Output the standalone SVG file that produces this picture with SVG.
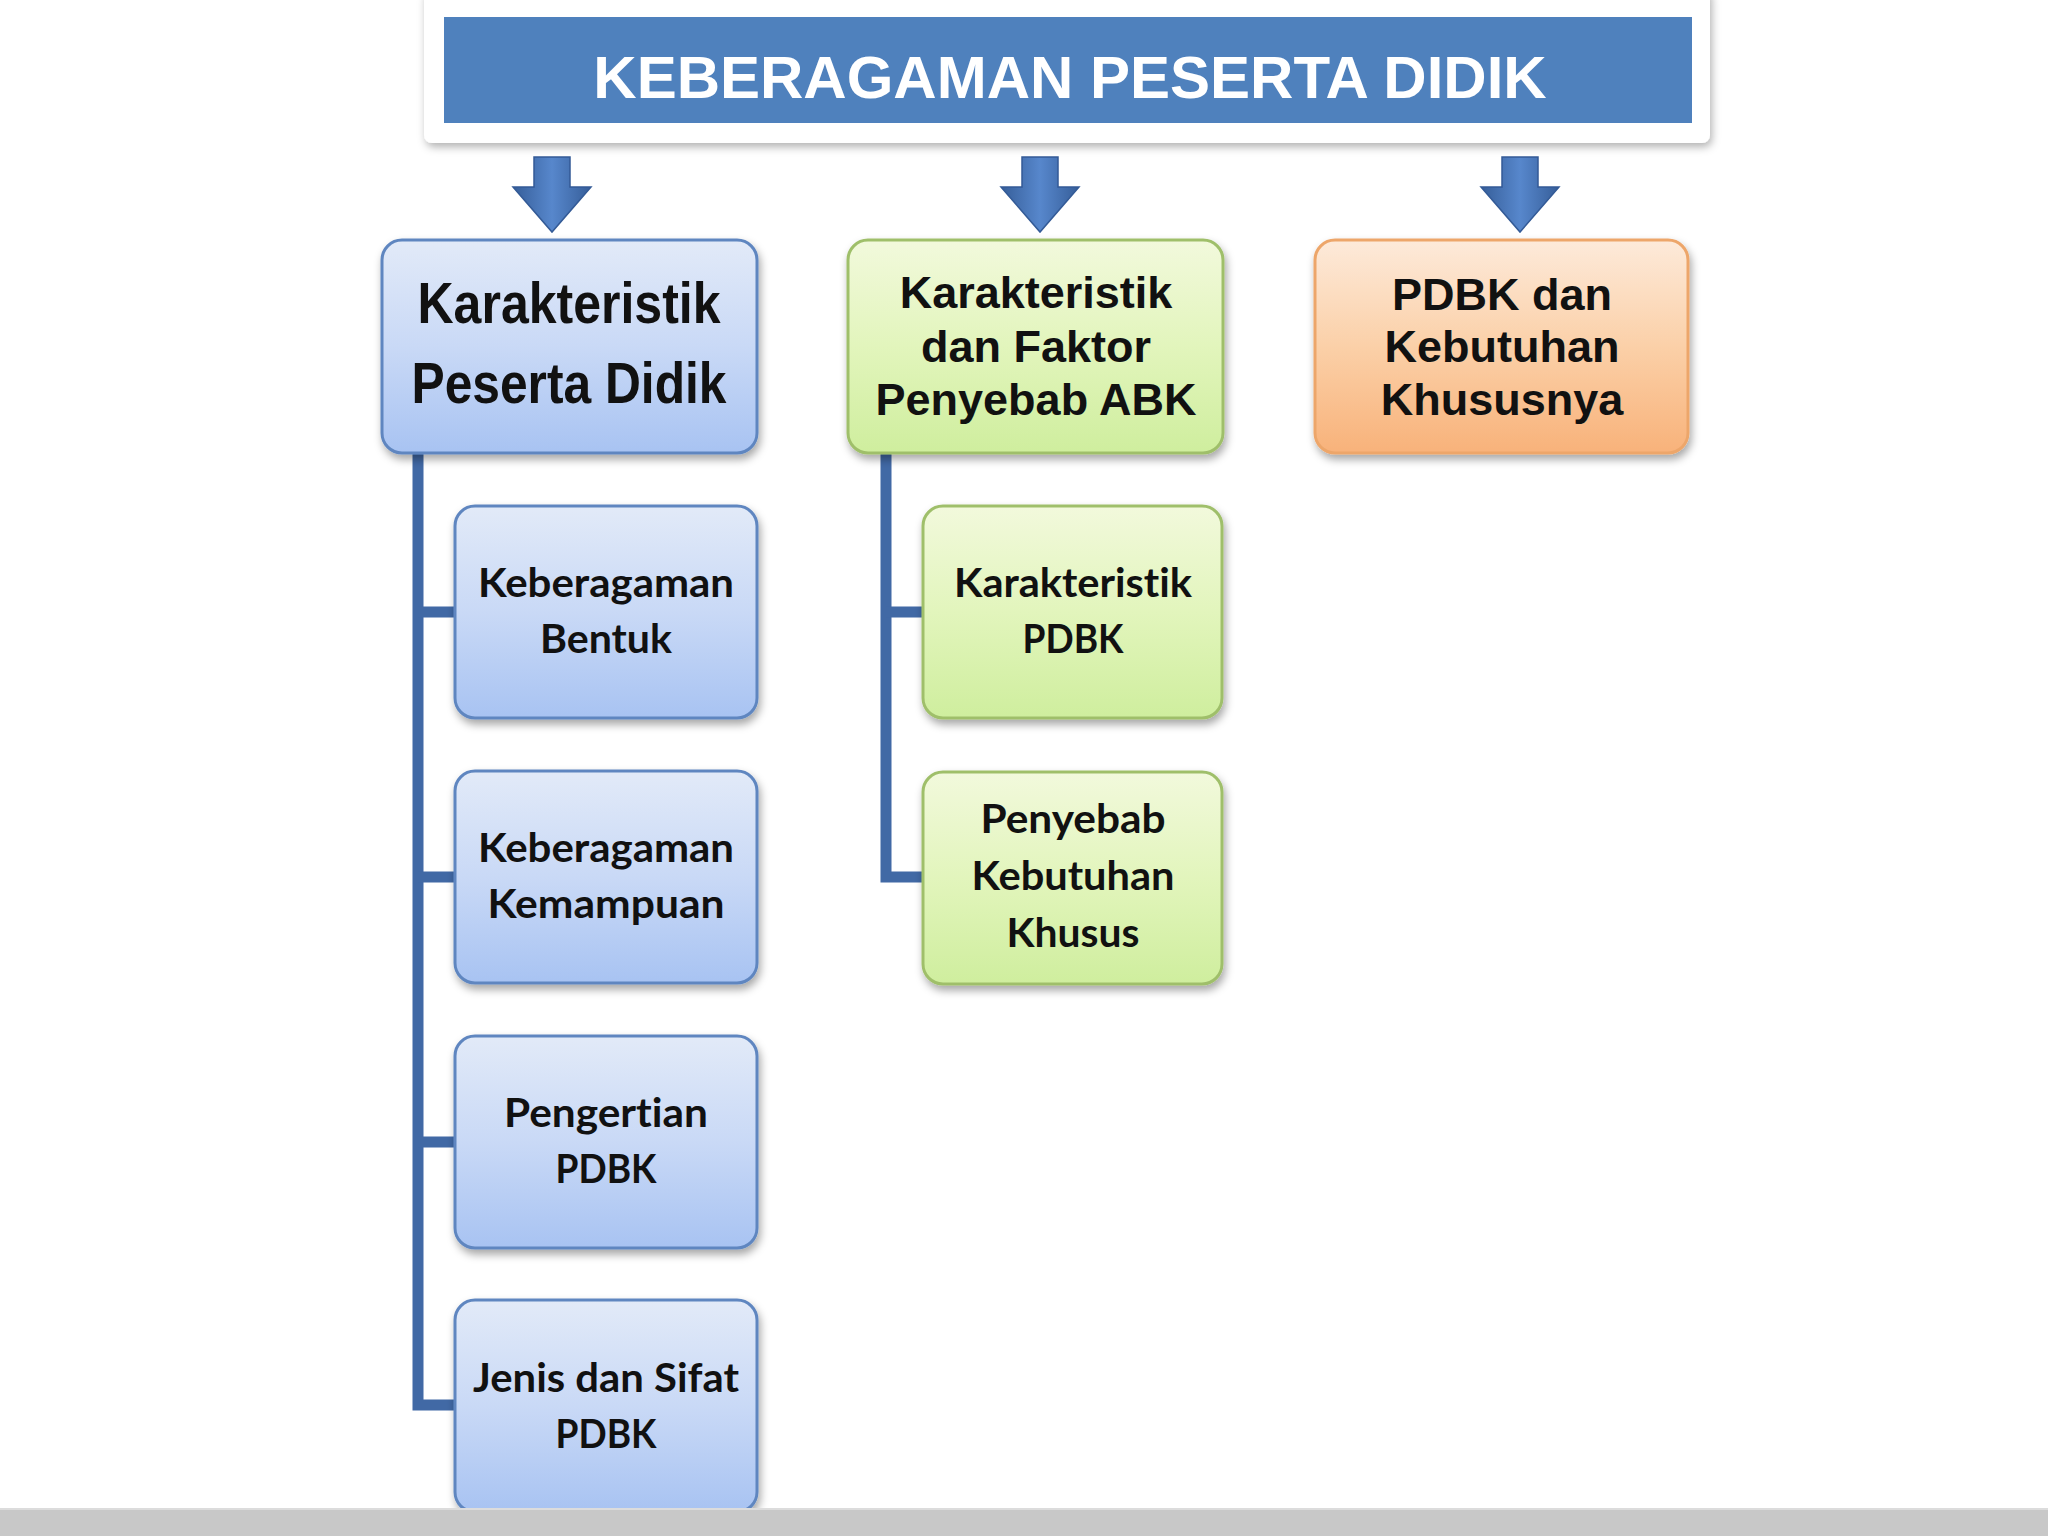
<svg xmlns="http://www.w3.org/2000/svg" width="2048" height="1536" viewBox="0 0 2048 1536">
  <defs>
    <linearGradient id="gBlue" x1="0" y1="0" x2="0" y2="1">
      <stop offset="0" stop-color="#e2eaf8"/>
      <stop offset="0.5" stop-color="#c9d9f6"/>
      <stop offset="1" stop-color="#a8c3f2"/>
    </linearGradient>
    <linearGradient id="gGreen" x1="0" y1="0" x2="0" y2="1">
      <stop offset="0" stop-color="#f2f9dc"/>
      <stop offset="0.5" stop-color="#e2f5bc"/>
      <stop offset="1" stop-color="#cfee9e"/>
    </linearGradient>
    <linearGradient id="gOrange" x1="0" y1="0" x2="0" y2="1">
      <stop offset="0" stop-color="#fdeada"/>
      <stop offset="0.5" stop-color="#fbd0a8"/>
      <stop offset="1" stop-color="#f8b27a"/>
    </linearGradient>
    <linearGradient id="gArrow" x1="0" y1="0" x2="1" y2="0">
      <stop offset="0" stop-color="#365e99"/>
      <stop offset="0.5" stop-color="#5787cc"/>
      <stop offset="1" stop-color="#365e99"/>
    </linearGradient>
    <filter id="shadow" x="-10%" y="-10%" width="125%" height="130%">
      <feDropShadow dx="2" dy="5" stdDeviation="4" flood-color="#000" flood-opacity="0.35"/>
    </filter>
    <filter id="pshadow" x="-5%" y="-20%" width="110%" height="150%">
      <feDropShadow dx="2" dy="4" stdDeviation="4" flood-color="#000" flood-opacity="0.3"/>
    </filter>
  </defs>
  <style>
    .blue { fill: url(#gBlue); stroke: #5f86c0; stroke-width: 3; }
    .green { fill: url(#gGreen); stroke: #9fbf6a; stroke-width: 3; }
    .orange { fill: url(#gOrange); stroke: #eda66b; stroke-width: 3; }
    text { font-variant-ligatures: none; font-feature-settings: "liga" 0, "clig" 0; }
    .main { font-family: "Liberation Sans", Arial, sans-serif; font-weight: bold; font-size: 45px; fill: #111; text-anchor: middle; }
    .big { font-family: "Liberation Sans", Arial, sans-serif; font-weight: bold; font-size: 58px; fill: #111; text-anchor: middle; }
    .sub { font-family: Lato, "Open Sans", sans-serif; font-weight: bold; font-size: 41px; fill: #111; text-anchor: middle; }
    .title { font-family: "Liberation Sans", Arial, sans-serif; font-weight: bold; font-size: 60px; fill: #fff; text-anchor: middle; }
    .conn { fill: none; stroke: #4169a5; stroke-width: 11; stroke-linejoin: miter; }
    .arrow { fill: url(#gArrow); stroke: #335a96; stroke-width: 1.5; }
  </style>

  <rect x="0" y="0" width="2048" height="1536" fill="#ffffff"/>

  <g id="title">
    <rect x="424" y="-12" width="1286" height="155" rx="8" fill="#ffffff" filter="url(#pshadow)"/>
    <rect x="444" y="17" width="1248" height="106" fill="#4f81bd"/>
    <text class="title" x="1070" y="98">KEBERAGAMAN PESERTA DIDIK</text>
  </g>

  <g id="arrows">
    <path class="arrow" d="M534,157 H570 V187 H591 L552,232 L513,187 H534 Z"/>
    <path class="arrow" d="M1022,157 H1058 V187 H1079 L1040,232 L1001,187 H1022 Z"/>
    <path class="arrow" d="M1502,157 H1538 V187 H1559 L1520,232 L1481,187 H1502 Z"/>
  </g>

  <g id="connectors">
    <path class="conn" d="M418,453 V1405 H458"/>
    <path class="conn" d="M418,612 H458"/>
    <path class="conn" d="M418,877 H458"/>
    <path class="conn" d="M418,1142 H458"/>
    <path class="conn" d="M886,453 V877 H925"/>
    <path class="conn" d="M886,612 H925"/>
  </g>

  <g id="node-karakteristik-peserta-didik">
    <rect class="blue" x="382" y="240" width="375" height="213" rx="20" filter="url(#shadow)"/>
    <text class="big" x="569" y="323" textLength="303" lengthAdjust="spacingAndGlyphs">Karakteristik</text>
    <text class="big" x="569" y="403" textLength="315" lengthAdjust="spacingAndGlyphs">Peserta Didik</text>
  </g>

  <g id="node-karakteristik-faktor-abk">
    <rect class="green" x="848" y="240" width="375" height="213" rx="20" filter="url(#shadow)"/>
    <text class="main" x="1036" y="308">Karakteristik</text>
    <text class="main" x="1036" y="362">dan Faktor</text>
    <text class="main" x="1036" y="415">Penyebab ABK</text>
  </g>

  <g id="node-pdbk-kebutuhan">
    <rect class="orange" x="1315" y="240" width="373" height="213" rx="20" filter="url(#shadow)"/>
    <text class="main" x="1502" y="310">PDBK dan</text>
    <text class="main" x="1502" y="362">Kebutuhan</text>
    <text class="main" x="1502" y="415">Khususnya</text>
  </g>

  <g id="node-keberagaman-bentuk">
    <rect class="blue" x="455" y="506" width="302" height="212" rx="20" filter="url(#shadow)"/>
    <text class="sub" x="606" y="597" textLength="256" lengthAdjust="spacingAndGlyphs">Keberagaman</text>
    <text class="sub" x="606" y="653" textLength="132" lengthAdjust="spacingAndGlyphs">Bentuk</text>
  </g>

  <g id="node-keberagaman-kemampuan">
    <rect class="blue" x="455" y="771" width="302" height="212" rx="20" filter="url(#shadow)"/>
    <text class="sub" x="606" y="862" textLength="256" lengthAdjust="spacingAndGlyphs">Keberagaman</text>
    <text class="sub" x="606" y="918" textLength="237" lengthAdjust="spacingAndGlyphs">Kemampuan</text>
  </g>

  <g id="node-pengertian-pdbk">
    <rect class="blue" x="455" y="1036" width="302" height="212" rx="20" filter="url(#shadow)"/>
    <text class="sub" x="606" y="1127" textLength="204" lengthAdjust="spacingAndGlyphs">Pengertian</text>
    <text class="sub" x="606" y="1183" textLength="101" lengthAdjust="spacingAndGlyphs">PDBK</text>
  </g>

  <g id="node-jenis-sifat-pdbk">
    <rect class="blue" x="455" y="1300" width="302" height="212" rx="20" filter="url(#shadow)"/>
    <text class="sub" x="606" y="1392" textLength="266" lengthAdjust="spacingAndGlyphs">Jenis dan Sifat</text>
    <text class="sub" x="606" y="1448" textLength="101" lengthAdjust="spacingAndGlyphs">PDBK</text>
  </g>

  <g id="node-karakteristik-pdbk">
    <rect class="green" x="923" y="506" width="299" height="212" rx="20" filter="url(#shadow)"/>
    <text class="sub" x="1073" y="597" textLength="238" lengthAdjust="spacingAndGlyphs">Karakteristik</text>
    <text class="sub" x="1073" y="653" textLength="101" lengthAdjust="spacingAndGlyphs">PDBK</text>
  </g>

  <g id="node-penyebab-kebutuhan-khusus">
    <rect class="green" x="923" y="772" width="299" height="212" rx="20" filter="url(#shadow)"/>
    <text class="sub" x="1073" y="833" textLength="185" lengthAdjust="spacingAndGlyphs">Penyebab</text>
    <text class="sub" x="1073" y="890" textLength="203" lengthAdjust="spacingAndGlyphs">Kebutuhan</text>
    <text class="sub" x="1073" y="947" textLength="133" lengthAdjust="spacingAndGlyphs">Khusus</text>
  </g>

  <g id="footer-bar">
    <rect x="0" y="1508" width="2048" height="28" fill="#c8c8c8"/>
    <rect x="0" y="1508" width="2048" height="2" fill="#dcdcdc"/>
  </g>
</svg>
